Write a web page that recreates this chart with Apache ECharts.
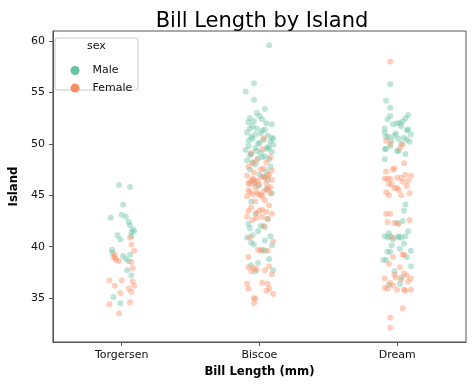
<!DOCTYPE html>
<html>
<head>
<meta charset="utf-8">
<script src="https://cdn.jsdelivr.net/npm/echarts@6/dist/echarts.min.js"></script>
<style>
html,body{margin:0;padding:0;background:#fff;}
#chart{width:474px;height:387px;}
</style>
</head>
<body>
<div id="chart"></div>
<script>
const categories = ['Torgersen', 'Biscoe', 'Dream'];
const yTicks = [35, 40, 45, 50, 55, 60];

const torgersenMale = [46.0, 45.8, 44.1, 42.8, 43.1, 42.9, 42.4, 42.1, 41.7, 41.5, 41.4, 41.1, 40.7, 39.7, 39.4, 39.1, 38.8, 39.2, 37.7, 37.2, 35.1, 34.5, 38.6, 41.0];
const torgersenMaleJitter = [-0.02, 0.06, 0.01, -0.08, 0.00, 0.03, 0.05, 0.06, 0.08, 0.09, 0.07, -0.03, -0.01, -0.07, -0.07, 0.01, 0.03, 0.06, 0.04, 0.07, -0.06, -0.01, 0.05, 0.07];
const torgersenFemale = [40.9, 40.2, 39.6, 39.2, 38.9, 38.7, 38.5, 36.7, 36.2, 36.7, 36.6, 36.2, 35.9, 35.6, 35.5, 34.6, 34.4, 33.5, 39.0, 38.6, 37.9];
const torgersenFemaleJitter = [0.06, 0.07, 0.09, -0.05, -0.05, -0.04, 0.07, -0.09, -0.05, 0.00, 0.08, 0.09, 0.05, 0.07, -0.01, 0.06, -0.09, -0.02, -0.06, -0.02, 0.08];

const biscoeMale = [59.6, 55.9, 55.1, 54.3, 53.4, 52.5, 52.1, 52.2, 51.5, 51.5, 52.0, 51.9, 51.3, 51.1, 50.8, 50.5, 50.2, 50.0, 50.4, 49.8, 49.5, 49.6, 49.2, 49.0, 48.7, 48.4, 48.5, 50.7, 51.0, 49.9, 49.3, 48.8, 48.2, 47.8, 47.5, 46.8, 46.5, 46.2, 45.2, 44.4, 50.1, 50.6, 52.4, 49.4, 49.7, 48.6, 47.3, 50.9, 51.4, 52.7, 50.3, 49.1, 48.0, 51.7, 47.0, 50.5, 49.6, 48.9, 45.9, 53.0,
  41.8, 41.1, 41.5, 41.9, 40.4, 40.2, 40.6, 38.8, 38.4, 37.7, 41.0, 40.9, 39.7, 40.1, 38.2, 42.0, 43.2, 45.6, 42.2, 39.6, 37.6, 42.7];
const biscoeMaleJitter = [0.07, -0.04, -0.10, -0.04, 0.04, -0.07, -0.08, -0.04, -0.02, -0.07, 0.05, 0.09, 0.02, -0.09, 0.06, -0.05, 0.08, -0.01, 0.03, -0.08, 0.05, -0.03, 0.09, -0.06, 0.02, -0.09, 0.07, -0.06, 0.01, 0.10, -0.02, 0.04, -0.05, 0.08, -0.07, 0.03, 0.06, -0.04, 0.09, -0.06, 0.00, 0.09, 0.02, -0.10, 0.06, -0.01, 0.05, -0.03, 0.04, 0.00, -0.08, 0.01, -0.03, -0.05, 0.00, 0.10, 0.07, -0.07, -0.01, -0.02,
  -0.07, -0.05, -0.01, 0.04, -0.06, -0.04, 0.04, 0.07, -0.01, 0.10, 0.08, -0.09, 0.02, 0.09, -0.06, 0.01, -0.03, 0.05, -0.08, 0.04, -0.03, 0.06];
const biscoeFemale = [50.5, 49.1, 48.7, 48.4, 48.2, 47.8, 47.5, 47.2, 47.0, 46.9, 46.8, 46.6, 46.5, 46.4, 46.2, 46.1, 46.0, 45.8, 45.7, 45.5, 45.4, 45.3, 45.2, 45.1, 45.0, 44.9, 44.5, 44.4, 44.0, 43.8, 43.6, 43.5, 43.4, 43.3, 43.2, 42.9, 42.8, 42.7, 42.6, 42.0, 40.9, 46.3, 46.7, 47.4, 45.5, 45.1, 46.2, 46.5, 47.6, 48.1, 49.5, 46.9, 45.3, 44.9, 45.8, 46.4, 43.5, 42.9,
  40.5, 39.6, 39.6, 39.0, 37.9, 37.8, 38.0, 36.4, 35.9, 36.4, 35.9, 35.4, 35.0, 34.9, 34.5, 37.7, 38.1, 36.5, 37.6, 39.7, 35.7, 37.3];
const biscoeFemaleJitter = [0.03, -0.06, 0.08, -0.02, 0.05, -0.08, 0.01, -0.04, 0.07, -0.09, 0.02, -0.05, 0.09, -0.01, 0.05, -0.07, 0.00, -0.03, 0.06, -0.08, 0.03, -0.02, 0.08, -0.05, 0.01, -0.09, 0.04, -0.03, 0.07, -0.06, 0.02, -0.08, 0.05, -0.02, 0.09, -0.09, -0.02, 0.06, -0.05, 0.03, -0.07, -0.03, 0.04, 0.09, 0.06, -0.01, -0.08, -0.04, 0.03, -0.05, 0.02, 0.06, -0.07, 0.02, 0.08, -0.06, 0.00, 0.02,
  0.10, 0.01, 0.06, -0.08, -0.04, -0.02, -0.08, -0.09, -0.08, 0.06, 0.07, 0.10, -0.04, -0.03, -0.04, 0.04, 0.07, 0.02, -0.06, -0.01, 0.05, 0.09];

const dreamMale = [55.8, 54.2, 53.5, 52.7, 52.8, 52.0, 52.0, 52.2, 51.5, 51.1, 51.3, 51.4, 50.7, 50.7, 50.8, 50.5, 50.6, 49.5, 49.5, 49.3, 49.3, 48.5, 50.2, 51.9, 50.0, 49.8, 52.5, 50.9, 51.0, 49.0, 50.3, 51.7, 50.4, 52.4,
  44.1, 43.5, 41.0, 41.0, 41.0, 41.0, 40.9, 40.9, 40.9, 39.5, 39.5, 40.1, 38.7, 38.7, 39.6, 38.1, 36.4, 42.3, 41.5, 40.3, 37.6, 40.7, 39.0, 41.3, 42.5, 37.0, 39.8, 36.3];
const dreamMaleJitter = [-0.05, -0.08, -0.05, -0.05, 0.08, 0.00, 0.02, 0.04, -0.09, -0.09, 0.07, 0.08, -0.08, -0.06, -0.02, 0.01, 0.05, -0.09, -0.08, 0.00, 0.01, -0.09, 0.09, -0.03, 0.03, -0.05, 0.06, 0.10, -0.01, 0.06, -0.04, 0.03, 0.07, -0.07,
  0.06, 0.05, -0.09, -0.05, 0.01, 0.06, -0.07, 0.01, 0.03, -0.05, -0.07, -0.04, -0.08, -0.10, 0.10, 0.10, 0.02, 0.00, 0.08, 0.05, -0.02, -0.03, 0.07, -0.06, 0.04, 0.03, 0.02, -0.06];
const dreamFemale = [58.0, 50.3, 50.0, 49.9, 49.6, 48.1, 47.5, 47.6, 46.6, 46.6, 46.6, 46.7, 46.7, 46.3, 46.4, 46.9, 46.1, 46.1, 45.7, 45.7, 45.3, 45.0, 45.0, 45.9, 45.2, 43.2, 43.2, 42.6, 42.4, 42.3, 47.0, 45.5, 40.9, 47.3,
  42.2, 39.2, 39.2, 38.0, 36.9, 36.0, 36.5, 36.2, 35.8, 37.4, 37.2, 36.9, 35.8, 35.8, 34.0, 33.1, 32.1, 37.0, 36.6, 38.3, 37.3, 35.7, 39.0, 36.8, 35.9];
const dreamFemaleJitter = [-0.05, -0.08, -0.05, 0.04, 0.02, 0.05, -0.03, -0.02, -0.09, -0.07, -0.05, 0.00, 0.03, 0.04, 0.08, 0.10, -0.06, -0.04, -0.02, 0.00, -0.08, -0.06, 0.03, 0.07, 0.09, -0.08, -0.05, 0.09, -0.07, -0.02, 0.06, 0.01, -0.03, -0.08,
  0.01, 0.04, 0.05, 0.02, -0.09, -0.09, -0.05, -0.03, 0.00, 0.05, 0.07, 0.10, 0.05, 0.10, 0.04, -0.05, -0.05, -0.01, 0.08, -0.06, -0.02, 0.06, -0.03, 0.03, -0.07];

function points(vals, jit, idx) {
  return vals.map((v, i) => [idx + jit[i], v]);
}
const maleData = [].concat(
  points(torgersenMale, torgersenMaleJitter, 0),
  points(biscoeMale, biscoeMaleJitter, 1),
  points(dreamMale, dreamMaleJitter, 2));
const femaleData = [].concat(
  points(torgersenFemale, torgersenFemaleJitter, 0),
  points(biscoeFemale, biscoeFemaleJitter, 1),
  points(dreamFemale, dreamFemaleJitter, 2));

const FONT = 'DejaVu Sans';
const chart = echarts.init(document.getElementById('chart'), null, {renderer: 'canvas'});
chart.setOption({
  animation: false,
  backgroundColor: '#fff',
  title: {
    text: 'Bill Length by Island',
    left: 257, top: 6, textAlign: 'center',
    textStyle: {fontFamily: FONT, fontSize: 21, fontWeight: 'normal', color: '#000'}
  },
  grid: {left: 48, right: 8, top: 31, bottom: 45, show: true, borderColor: '#555', borderWidth: 1, backgroundColor: 'transparent'},
  xAxis: {
    type: 'value', min: -0.5, max: 2.5,
    name: 'Bill Length (mm)', nameLocation: 'middle', nameGap: 23,
    nameTextStyle: {fontFamily: FONT, fontSize: 11.7, fontWeight: 'bold', color: '#000'},
    axisLine: {onZero: false, lineStyle: {color: '#555', width: 1}},
    axisTick: {show: true, length: 4, customValues: [0, 1, 2], lineStyle: {color: '#555'}},
    axisLabel: {customValues: [0, 1, 2], formatter: v => categories[Math.round(v)], fontFamily: FONT, fontSize: 11, color: '#111', margin: 8},
    splitLine: {show: false}
  },
  yAxis: {
    type: 'value', min: 30.725, max: 60.975,
    name: 'Island', nameLocation: 'middle', nameGap: 28, nameRotate: 90,
    nameTextStyle: {fontFamily: FONT, fontSize: 11.7, fontWeight: 'bold', color: '#000'},
    axisLine: {show: true, onZero: false, lineStyle: {color: '#555', width: 1}},
    axisTick: {show: true, length: 4, customValues: yTicks, lineStyle: {color: '#555'}},
    axisLabel: {customValues: yTicks, fontFamily: FONT, fontSize: 11, color: '#111', margin: 8},
    splitLine: {show: false}
  },
  legend: {
    orient: 'vertical', left: 65.5, top: 59.5, z: 20,
    itemWidth: 9, itemHeight: 9, itemGap: 5.6,
    icon: 'circle',
    itemStyle: {opacity: 1},
    textStyle: {fontFamily: FONT, fontSize: 11, color: '#111', lineHeight: 12, padding: [0, 0, 0, 8]},
    data: ['Male', 'Female']
  },
  graphic: [
    {type: 'rect', left: 54.5, top: 37.5, z: 1,
     shape: {x: 0, y: 0, width: 83, height: 52, r: 3},
     style: {fill: 'rgba(255,255,255,0.8)', stroke: '#c8c8c8', lineWidth: 1}},
    {type: 'text', left: 87, top: 41, z: 2,
     style: {text: 'sex', fontFamily: FONT, fontSize: 11, fill: '#111'}}
  ],
  series: [
    {name: 'Male', type: 'scatter', data: maleData, symbolSize: 6, z: 0,
     itemStyle: {color: '#66c2a5', opacity: 0.42}},
    {name: 'Female', type: 'scatter', data: femaleData, symbolSize: 6, z: 0,
     itemStyle: {color: '#fc8d62', opacity: 0.42}}
  ]
});
</script>
</body>
</html>
